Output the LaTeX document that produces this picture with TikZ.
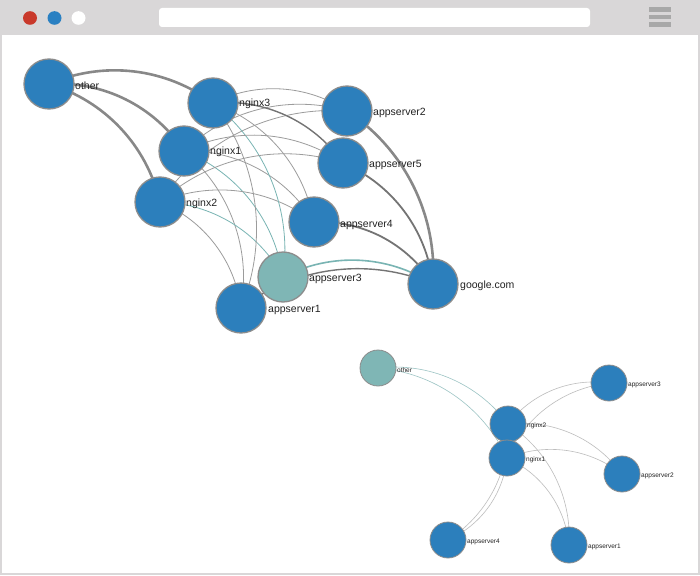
\documentclass[tikz,border=0pt]{standalone}
\usepackage{fontspec}
\setmainfont{Liberation Sans}
\pgfdeclarelayer{bg}
\pgfdeclarelayer{edges}
\pgfsetlayers{bg,edges,main}
\definecolor{nodeblue}{HTML}{2C7FBC}
\definecolor{nodeteal}{HTML}{7FB6B5}
\definecolor{nodeline}{HTML}{8C8C8C}
\definecolor{barfill}{HTML}{D9D7D8}
\definecolor{dotred}{HTML}{C9392B}
\definecolor{dotblue}{HTML}{2A80C2}
\definecolor{menugrey}{HTML}{A8A8A8}
\definecolor{labeltext}{HTML}{222222}
\definecolor{thinlinecol}{HTML}{9C9C9C}
\definecolor{tealline}{HTML}{79B4B3}
\definecolor{thicklinecol}{HTML}{888888}
\definecolor{paleline}{HTML}{BDBDBD}
\definecolor{paleteal}{HTML}{9CC4C4}
\begin{document}
\begin{tikzpicture}[x=1pt,y=-1pt,
  host/.style={circle,draw=nodeline,line width=1.3pt,fill=nodeblue,minimum size=50pt,inner sep=0pt},
  hothost/.style={host,fill=nodeteal},
  smallhost/.style={circle,draw=nodeline,line width=0.8pt,fill=nodeblue,minimum size=36pt,inner sep=0pt},
  smallhot/.style={smallhost,fill=nodeteal},
  lbl/.style={anchor=west,inner sep=0pt,font=\fontsize{10.5}{12}\selectfont,text=labeltext},
  slbl/.style={anchor=west,inner sep=0pt,font=\fontsize{6.5}{8}\selectfont,text=labeltext},
  arc/.style={bend left=30,looseness=0.92},
  thinlink/.style={draw=thinlinecol,line width=0.8pt},
  teallink/.style={draw=tealline,line width=0.8pt},
  thicklink/.style={draw=thicklinecol,line width=2.6pt},
  medlink/.style={draw=thicklinecol!85!black,line width=1.8pt},
  medteal/.style={draw=tealline,line width=1.6pt},
  palelink/.style={draw=paleline,line width=0.6pt},
  paletealink/.style={draw=paleteal,line width=0.6pt}
]
\useasboundingbox (0,0) rectangle (700,575);
% ---------- window frame ----------
\begin{pgfonlayer}{bg}
  \fill[barfill] (0,0) rectangle (700,575);
  \fill[white] (2,35) rectangle (698,573);
  \fill[white,rounded corners=3pt] (159,8) rectangle (590,27);
  \fill[dotred] (30,18) ellipse [x radius=7,y radius=6.8];
  \fill[dotblue] (54.5,18) ellipse [x radius=7,y radius=6.8];
  \fill[white] (78.5,18) ellipse [x radius=7,y radius=6.8];
  \fill[menugrey] (649,7) rectangle (671,12);
  \fill[menugrey] (649,15) rectangle (671,19.5);
  \fill[menugrey] (649,22.5) rectangle (671,27);
\end{pgfonlayer}
% ---------- upper graph nodes ----------
\node[host] (other) at (49,84) {};
\node[host] (nginx3) at (213,103) {};
\node[host] (as2) at (347,111) {};
\node[host] (nginx1) at (184,151) {};
\node[host] (as5) at (343,163) {};
\node[host] (nginx2) at (160,202) {};
\node[host] (as4) at (314,222) {};
\node[hothost] (as3) at (283,277) {};
\node[host] (google) at (433,284) {};
\node[host] (as1) at (241,308) {};
\node[lbl] (l-other) at (75,86) {other};
\node[lbl] (l-nginx3) at (239,104) {nginx3};
\node[lbl] (l-as2) at (373,113) {appserver2};
\node[lbl] (l-nginx1) at (210,152) {nginx1};
\node[lbl] (l-as5) at (369,165) {appserver5};
\node[lbl] (l-nginx2) at (186,204) {nginx2};
\node[lbl] (l-as4) at (340,225) {appserver4};
\node[lbl] (l-as3) at (309,279) {appserver3};
\node[lbl] (l-google) at (460,286) {google.com};
\node[lbl] (l-as1) at (268,310) {appserver1};
% ---------- lower graph nodes ----------
\node[smallhot] (bother) at (378,368) {};
\node[smallhost] (bnginx2) at (508,424) {};
\node[smallhost] (bnginx1) at (507,458) {};
\node[smallhost] (bas3) at (609,383) {};
\node[smallhost] (bas2) at (622,474) {};
\node[smallhost] (bas4) at (448,540) {};
\node[smallhost] (bas1) at (569,545) {};
\node[slbl] (l-bother) at (397,370) {other};
\node[slbl] (l-bnginx2) at (527,426) {nginx2};
\node[slbl] (l-bnginx1) at (526,460) {nginx1};
\node[slbl] (l-bas3) at (628,385) {appserver3};
\node[slbl] (l-bas2) at (641,476) {appserver2};
\node[slbl] (l-bas4) at (467,542) {appserver4};
\node[slbl] (l-bas1) at (588,547) {appserver1};
% ---------- links ----------
\begin{pgfonlayer}{edges}
  \foreach \n in {nginx1,nginx2,nginx3}{
    \foreach \a in {as1,as2,as4}{
      \draw[thinlink] (\n.center) to[arc] (\a.center);
    }
    \draw[teallink] (\n.center) to[arc] (as3.center);
  }
  \draw[thinlink] (nginx1.center) to[arc] (as5.center);
  \draw[thinlink] (nginx2.center) to[arc] (as5.center);
  \draw[medlink,line width=1.4pt] (nginx3.center) to[arc] (as5.center);
  \draw[medlink,line width=1.4pt] (as1.center) to[arc] (google.center);
  \draw[medteal] (as3.center) to[arc] (google.center);
  \draw[medlink] (as4.center) to[arc] (google.center);
  \draw[medlink] (as5.center) to[arc] (google.center);
  \draw[thicklink] (as2.center) to[arc] (google.center);
  \draw[thicklink] (other.center) to[arc] (nginx1.center);
  \draw[thicklink] (other.center) to[arc] (nginx2.center);
  \draw[thicklink] (other.center) to[arc] (nginx3.center);
  % lower graph
  \draw[paletealink] (bother.center) to[arc] (bnginx2.center);
  \draw[paletealink] (bother.center) to[arc] (bnginx1.center);
  \foreach \n in {bnginx1,bnginx2}{
    \foreach \a in {bas1,bas2,bas3,bas4}{
      \draw[palelink] (\n.center) to[arc] (\a.center);
    }
  }
\end{pgfonlayer}
\end{tikzpicture}
\end{document}
